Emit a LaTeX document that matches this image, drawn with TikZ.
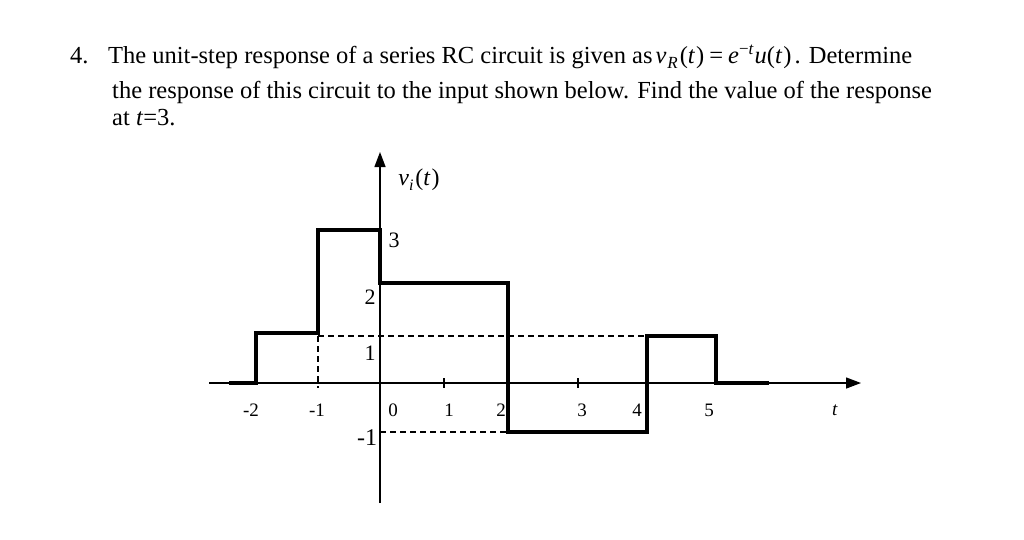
\documentclass[tikz,border=0pt]{standalone}
\usepackage{fontspec}
\setmainfont{Liberation Serif}
\usetikzlibrary{arrows.meta}
\begin{document}
\begin{tikzpicture}[x=1pt,y=-1pt,
  txt/.style={inner sep=0pt,anchor=base west,font=\fontsize{24.5}{28}\selectfont},
  axis/.style={line width=1.4pt,draw=black},
  signal/.style={line width=3.6pt,draw=black,line cap=butt,line join=miter},
  guide/.style={line width=1.3pt,draw=black,dash pattern=on 6pt off 4pt},
  lbl/.style={inner sep=0pt,font=\fontsize{19}{21}\selectfont},
  tip/.style={-{Triangle[length=15pt,width=11pt]}}]
\useasboundingbox (0,0) rectangle (1024,539);
\fill[white] (0,0) rectangle (1024,539);
% text
\node[txt] (l1a) at (70,63) {4.};
\node[txt] (l1b) at (108,63) {The unit-step response of a series RC circuit is given as\kern3pt\textit{v}\kern1pt\raisebox{-5pt}{\fontsize{17}{17}\selectfont\textit{R}}\kern2pt(\textit{t}\kern1pt)\kern5pt=\kern5pt\textit{e}\raisebox{9pt}{\fontsize{17}{17}\selectfont−\textit{t}}\kern1pt\textit{u}(\textit{t}\kern1pt)\kern3pt. Determine};
\node[txt] (l2) at (112,98) {the response of this circuit to the input shown below. Find the value of the response};
\node[txt] (l3) at (112,125) {at \textit{t}=3.};
% axes
\coordinate (xs) at (209,383);
\coordinate (xe) at (861,383);
\coordinate (ys) at (380,503);
\coordinate (ye) at (380,152);
\draw[axis,tip] (xs) -- (xe);
\draw[axis,tip] (ys) -- (ye);
% ticks
\coordinate (t1a) at (444,378); \coordinate (t1b) at (444,388);
\coordinate (t3a) at (578,378); \coordinate (t3b) at (578,388);
\draw[axis] (t1a) -- (t1b);
\draw[axis] (t3a) -- (t3b);
% guides
\coordinate (g1) at (318,336); \coordinate (g2) at (647,336);
\coordinate (g3) at (318,388);
\coordinate (g4) at (380,432); \coordinate (g5) at (508,432);
\draw[guide] (g1) -- (g2);
\draw[guide] (g1) -- (g3);
\draw[guide] (g4) -- (g5);
% signal
\draw[signal] (229,383) -- (256,383) -- (256,333) -- (318,333) -- (318,230) -- (380,230) -- (380,283) -- (508,283) -- (508,432) -- (647,432) -- (647,336) -- (716,336) -- (716,383) -- (769,383);
% labels
\node[lbl,font=\fontsize{24}{26}\selectfont] (vi) at (419,180) {\textit{v}\raisebox{-5pt}{\fontsize{16}{16}\selectfont\textit{i}}\kern2pt(\textit{t}\kern1pt)};
\node[lbl,font=\fontsize{22}{24}\selectfont] (n3) at (394,240) {3};
\node[lbl,font=\fontsize{22}{24}\selectfont] (n2) at (370,297) {2};
\node[lbl,font=\fontsize{22}{24}\selectfont] (n1) at (370,353) {1};
\node[lbl,font=\fontsize{24}{26}\selectfont] (nm1) at (367,438) {-1};
\node[lbl] (xm2) at (251,410) {-2};
\node[lbl] (xm1) at (317,410) {-1};
\node[lbl] (x0) at (393,410) {0};
\node[lbl] (x1) at (449,410) {1};
\node[lbl] (x2) at (501,410) {2};
\node[lbl] (x3) at (582,410) {3};
\node[lbl] (x4) at (637,410) {4};
\node[lbl] (x5) at (709,410) {5};
\node[lbl] (xt) at (835,410) {\textit{t}};
\end{tikzpicture}
\end{document}
